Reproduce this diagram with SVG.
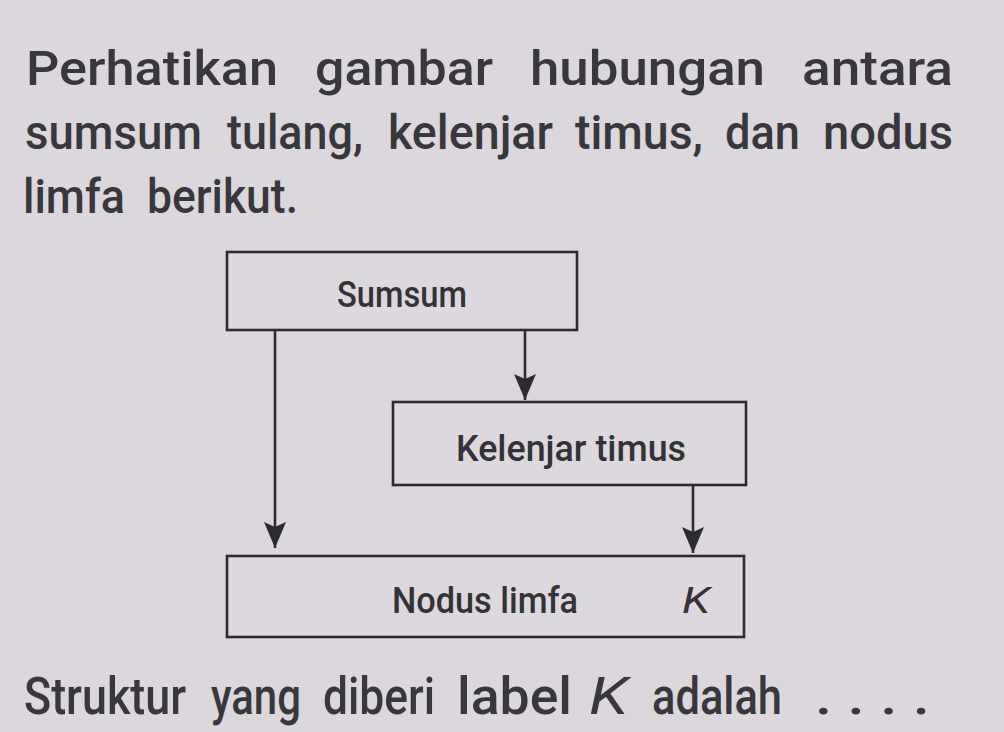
<svg xmlns="http://www.w3.org/2000/svg" width="1004" height="732" viewBox="0 0 1004 732">
<style>
.t{font-family:Roboto,"Liberation Sans",Arial,sans-serif;fill:#38373c;font-size:48px;font-weight:500}
.q{font-size:52px}
.d{font-family:Roboto,"Liberation Sans",Arial,sans-serif;fill:#333236;font-size:36px;font-weight:500}
.it{font-style:italic;font-weight:400}
.box{fill:#dcd8de;stroke:#2c2b2e;stroke-width:2.6}
.ln{stroke:#2c2b2e;stroke-width:2.6;fill:none}
</style>
<defs>
<marker id="ah" viewBox="0 0 26 22" refX="26" refY="11" markerWidth="26" markerHeight="22" markerUnits="userSpaceOnUse" orient="auto">
<path d="M0,0 L26,11 L0,22 L5,11 Z" fill="#2c2b2e"/>
</marker>
</defs>
<rect width="1004" height="732" fill="#dbd7dd"/>
<g id="header">
<text class="t" y="85" x="26" textLength="252" lengthAdjust="spacingAndGlyphs">Perhatikan</text>
<text class="t" y="85" x="315" textLength="178" lengthAdjust="spacingAndGlyphs">gambar</text>
<text class="t" y="85" x="530" textLength="235" lengthAdjust="spacingAndGlyphs">hubungan</text>
<text class="t" y="85" x="802" textLength="151" lengthAdjust="spacingAndGlyphs">antara</text>
<text class="t" y="149" x="25" textLength="177" lengthAdjust="spacingAndGlyphs">sumsum</text>
<text class="t" y="149" x="227" textLength="136" lengthAdjust="spacingAndGlyphs">tulang,</text>
<text class="t" y="149" x="388" textLength="165" lengthAdjust="spacingAndGlyphs">kelenjar</text>
<text class="t" y="149" x="575" textLength="128" lengthAdjust="spacingAndGlyphs">timus,</text>
<text class="t" y="149" x="725" textLength="75" lengthAdjust="spacingAndGlyphs">dan</text>
<text class="t" y="149" x="823" textLength="130" lengthAdjust="spacingAndGlyphs">nodus</text>
<text class="t" y="213" x="23" textLength="102" lengthAdjust="spacingAndGlyphs">limfa</text>
<text class="t" y="213" x="147" textLength="151" lengthAdjust="spacingAndGlyphs">berikut.</text>
</g>
<g id="connectors">
<line class="ln" x1="275" y1="330" x2="275" y2="548" marker-end="url(#ah)"/>
<line class="ln" x1="525" y1="330" x2="525" y2="400" marker-end="url(#ah)"/>
<line class="ln" x1="693" y1="485" x2="693" y2="553" marker-end="url(#ah)"/>
</g>
<g id="sumsum">
<rect class="box" x="227" y="252" width="350" height="78"/>
<text class="d" x="337" y="307" textLength="130" lengthAdjust="spacingAndGlyphs">Sumsum</text>
</g>
<g id="kelenjar">
<rect class="box" x="393" y="402" width="353" height="83"/>
<text class="d" x="456" y="461" textLength="230" lengthAdjust="spacingAndGlyphs">Kelenjar timus</text>
</g>
<g id="nodus">
<rect class="box" x="227" y="556" width="517" height="81"/>
<text class="d" x="392" y="613" textLength="186" lengthAdjust="spacingAndGlyphs">Nodus limfa</text>
<text class="d it" x="682" y="613" textLength="28" lengthAdjust="spacingAndGlyphs">K</text>
</g>
<g id="question">
<text class="t q" y="714" x="24" textLength="162" lengthAdjust="spacingAndGlyphs">Struktur</text>
<text class="t q" y="714" x="211" textLength="90" lengthAdjust="spacingAndGlyphs">yang</text>
<text class="t q" y="714" x="323" textLength="112" lengthAdjust="spacingAndGlyphs">diberi</text>
<text class="t q" y="714" x="457" textLength="115" lengthAdjust="spacingAndGlyphs">label</text>
<text class="t q it" y="714" x="589" textLength="39" lengthAdjust="spacingAndGlyphs">K</text>
<text class="t q" y="714" x="652" textLength="130" lengthAdjust="spacingAndGlyphs">adalah</text>
<text class="t q" y="714" x="815" textLength="115" lengthAdjust="spacingAndGlyphs">. . . .</text>
</g>
</svg>
